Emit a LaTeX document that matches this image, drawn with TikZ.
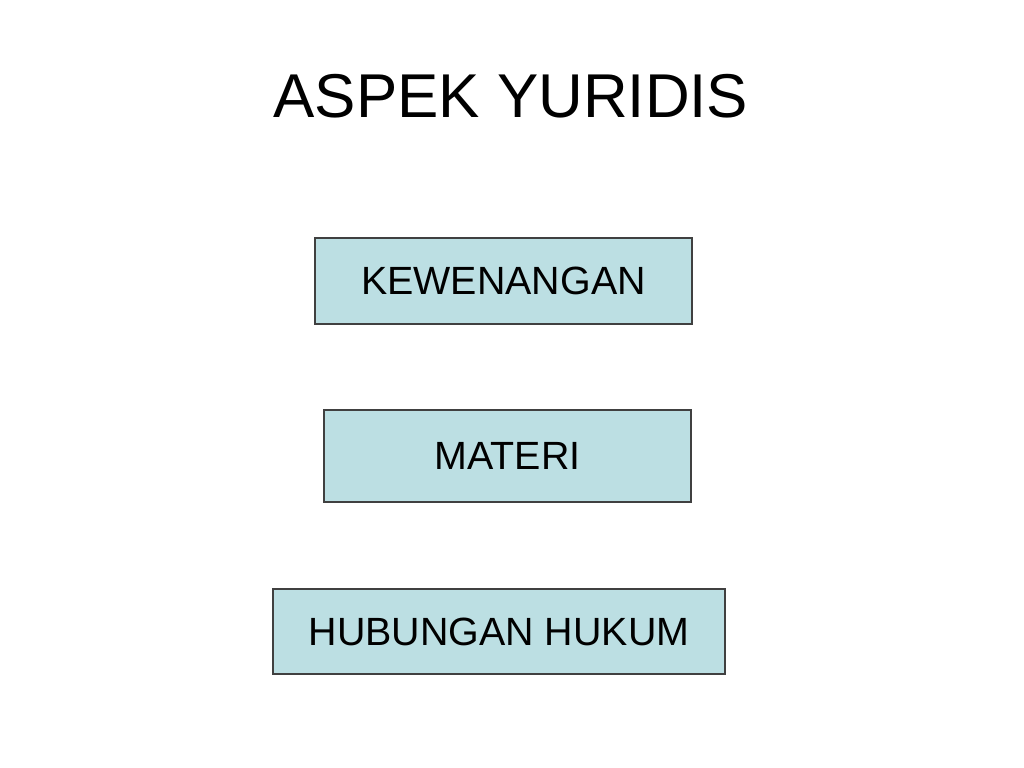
\documentclass[tikz,border=0pt]{standalone}
\usepackage{fontspec}
\setmainfont{Liberation Sans}
\definecolor{boxfill}{HTML}{BCDFE3}
\definecolor{boxline}{HTML}{404040}

\begin{document}
\begin{tikzpicture}[x=0.01cm,y=-0.01cm,
    aspek/.style={draw=boxline, fill=boxfill, line width=0.4pt, inner sep=0pt, font=\fontsize{11.2}{13}\selectfont}]
      \useasboundingbox (0,0) rectangle (1024,768);
      \node (judul) at (511,96) {\fontsize{17.6}{20}\selectfont ASPEK YURIDIS};
      \node[aspek, minimum width=3.77cm, minimum height=0.86cm] (kewenangan) at (503.5,281) {KEWENANGAN};
      \node[aspek, minimum width=3.67cm, minimum height=0.92cm] (materi) at (507.5,456) {MATERI};
      \node[aspek, minimum width=4.52cm, minimum height=0.85cm] (hubungan) at (499,631.5) {HUBUNGAN HUKUM};
  \end{tikzpicture}
\end{document}
